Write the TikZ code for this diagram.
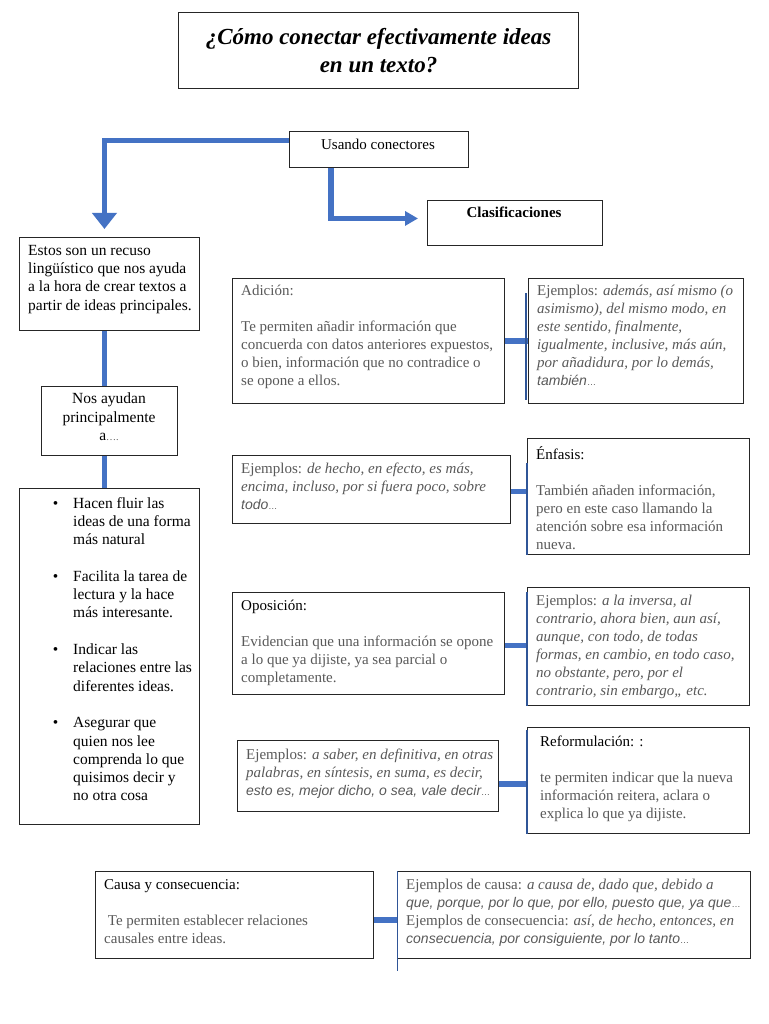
\documentclass[tikz,border=0pt]{standalone}
\usepackage{fontspec}
\setmainfont{Liberation Serif}
\newfontfamily\sansit{Liberation Sans}
\usetikzlibrary{arrows.meta}
\definecolor{conblue}{HTML}{4472C4}
\definecolor{navy}{HTML}{2F5597}
\definecolor{txtgray}{HTML}{595959}
\newcommand{\sfdots}{{\fontsize{9}{9}\selectfont\sansit …}}
\newcommand{\sfi}[1]{{\sansit\itshape\fontsize{14}{18}\selectfont #1}}
\begin{document}
\begin{tikzpicture}[x=1pt,y=-1pt,
  box/.style={draw=black!85, line width=0.9pt, anchor=north west, inner sep=0pt},
  body/.style={anchor=north west, inner sep=0pt, align=left, text=txtgray, font=\fontsize{15}{18}\selectfont},
  lbody/.style={anchor=north west, inner sep=0pt, align=left, text=black, font=\fontsize{15.5}{18.3}\selectfont},
  conn/.style={draw=conblue, line width=5.5pt},
  brk/.style={draw=navy, line width=1.6pt}]
\fill[white] (0,0) rectangle (768,1024);
\useasboundingbox (0,0) rectangle (768,1024);

% title
\node[box, line width=1.1pt, minimum width=400pt, minimum height=76pt] (title) at (178,12) {};
\node[font=\fontsize{23}{28}\selectfont\bfseries\itshape, align=center, inner sep=0pt] (titletxt) at (title.center) {¿Cómo conectar efectivamente ideas\\en un texto?};

% top nodes
\node[box, minimum width=179pt, minimum height=36pt] (uso) at (289,131) {};
\node[font=\fontsize{15}{18}\selectfont, inner sep=0pt, anchor=north] (usotxt) at (378,139) {Usando conectores};

\node[box, minimum width=175pt, minimum height=45pt] (clas) at (427,200) {};
\node[font=\fontsize{15}{18}\selectfont\bfseries, inner sep=0pt, anchor=north] (clastxt) at (514,207) {Clasificaciones};

% left column
\node[box, minimum width=180pt, minimum height=93pt] (estos) at (19,237) {};
\node[lbody] (estostxt) at (28,245) {Estos son un recuso\\lingüístico que nos ayuda\\a la hora de crear textos a\\partir de ideas principales.};

\node[box, minimum width=136pt, minimum height=69pt] (nos) at (41,386) {};
\node[lbody, anchor=north, align=center] (nostxt) at (109,393) {Nos ayudan\\principalmente\\a\textcolor{txtgray}{\fontsize{10}{10}\selectfont….}};

\node[box, minimum width=180pt, minimum height=336pt] (lista) at (19,488) {};
\node[lbody] (listatxt) at (73,497) {\llap{\textbullet\hspace{15pt}}Hacen fluir las\\ideas de una forma\\más natural\\[18.3pt]
\llap{\textbullet\hspace{15pt}}Facilita la tarea de\\lectura y la hace\\más interesante.\\[18.3pt]
\llap{\textbullet\hspace{15pt}}Indicar las\\relaciones entre las\\diferentes ideas.\\[18.3pt]
\llap{\textbullet\hspace{15pt}}Asegurar que\\quien nos lee\\comprenda lo que\\quisimos decir y\\no otra cosa};

% Adición
\node[box, minimum width=272pt, minimum height=125pt] (adic) at (232,278) {};
\node[body] (adictxt) at (241,285) {Adición:\\[18pt]Te permiten añadir información que\\concuerda con datos anteriores expuestos,\\o bien, información que no contradice o\\se opone a ellos.};

\node[box, minimum width=215pt, minimum height=125pt] (adicex) at (528,278) {};
\node[body] (adicextxt) at (537,285) {Ejemplos: \textit{además, así mismo (o}\\\textit{asimismo), del mismo modo, en}\\\textit{este sentido, finalmente,}\\\textit{igualmente, inclusive, más aún,}\\\textit{por añadidura, por lo demás,}\\\sfi{también}\sfdots};

% Énfasis
\node[box, minimum width=278pt, minimum height=68pt] (hecho) at (232,455) {};
\node[body] (hechotxt) at (241,463) {Ejemplos: \textit{de hecho, en efecto, es más,}\\\textit{encima, incluso, por si fuera poco, sobre}\\\sfi{todo}\sfdots};

\node[box, minimum width=222pt, minimum height=116pt] (enf) at (527,438) {};
\node[body] (enftxt) at (536,446) {\textcolor{black}{Énfasis:}\\[18pt]También añaden información,\\pero en este caso llamando la\\atención sobre esa información\\nueva.};

% Oposición
\node[box, minimum width=272pt, minimum height=102pt] (opos) at (232,592) {};
\node[body] (opostxt) at (241,600) {\textcolor{black}{Oposición:}\\[18pt]Evidencian que una información se opone\\a lo que ya dijiste, ya sea parcial o\\completamente.};

\node[box, minimum width=222pt, minimum height=118pt] (inv) at (527,587) {};
\node[body] (invtxt) at (536,595) {Ejemplos: \textit{a la inversa, al}\\\textit{contrario, ahora bien, aun así,}\\\textit{aunque, con todo, de todas}\\\textit{formas, en cambio, en todo caso,}\\\textit{no obstante, pero, por el}\\\textit{contrario, sin embargo,, etc.}};

% Reformulación
\node[box, minimum width=261pt, minimum height=71pt] (saber) at (237,740) {};
\node[body] (sabertxt) at (246,749) {Ejemplos: \textit{a saber, en definitiva, en otras}\\\textit{palabras, en síntesis, en suma, es decir,}\\\sfi{esto es, mejor dicho, o sea, vale decir}\sfdots};

\node[box, minimum width=222pt, minimum height=106pt] (refo) at (527,727) {};
\node[body] (refotxt) at (540,736) {\textcolor{black}{Reformulación: :}\\[18pt]te permiten indicar que la nueva\\información reitera, aclara o\\explica lo que ya dijiste.};

% Causa
\node[box, minimum width=278pt, minimum height=87pt] (causa) at (95,871) {};
\node[body] (causatxt) at (104,879) {\textcolor{black}{Causa y consecuencia:}\\[18pt]\ Te permiten establecer relaciones\\causales entre ideas.};

\node[box, minimum width=353pt, minimum height=87pt] (causaex) at (397,871) {};
\node[body] (causaextxt) at (406,879) {Ejemplos de causa: \textit{a causa de, dado que, debido a}\\\sfi{que, porque, por lo que, por ello, puesto que, ya que}\sfdots\\Ejemplos de consecuencia: \textit{así, de hecho, entonces, en}\\\sfi{consecuencia, por consiguiente, por lo tanto}\sfdots};

% connectors
\draw[conn, -{Triangle[width=24pt,length=16pt]}, shorten >=8pt] ([yshift=9pt]uso.west) -| ([xshift=-5pt]estos.north);
\draw[conn, -{Triangle[width=14pt,length=13pt]}, shorten >=9pt] ([xshift=-48pt]uso.south) |- ([yshift=4.5pt]clas.west);
\draw[conn] ([xshift=-5pt]estos.south) -- ([xshift=-5pt]estos.south |- nos.north);
\draw[conn] ([xshift=-5pt]nos.south) -- ([xshift=-5pt]nos.south |- lista.north);
\draw[conn] (adic.east) -- (adic.east -| adicex.west);
\draw[conn] ([yshift=-2pt]hecho.east) -- ([yshift=-2pt]hecho.east -| enf.west);
\draw[conn] ([yshift=-2pt]opos.east) -- ([yshift=-2pt]opos.east -| inv.west);
\draw[conn] ([yshift=-8pt]saber.east) -- ([yshift=-8pt]saber.east -| refo.west);
\draw[conn] ([yshift=-5pt]causa.east) -- ([yshift=-5pt]causa.east -| causaex.west);

% brackets
\draw[brk] ([xshift=-2pt,yshift=-15pt]adicex.north west) -- ([xshift=-2pt,yshift=4pt]adicex.south west);
\draw[brk] ([yshift=-25pt]enf.north west) -- (enf.south west);
\draw[brk] ([yshift=-5pt]inv.north west) -- (inv.south west);
\draw[brk] ([yshift=-3pt]refo.north west) -- (refo.south west);
\draw[navy, line width=1pt] (causaex.north west) -- ([yshift=-12pt]causaex.south west);
\end{tikzpicture}
\end{document}
